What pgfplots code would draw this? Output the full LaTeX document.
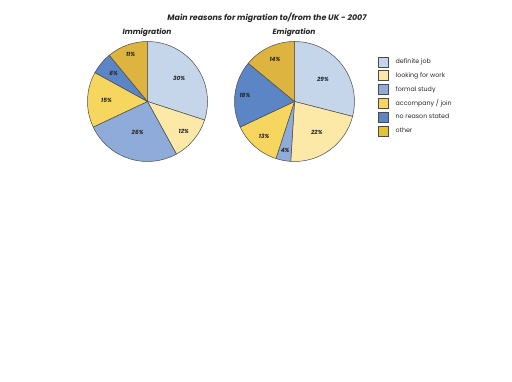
\documentclass[border=0pt]{standalone}
\usepackage{pgfplots}
\pgfplotsset{compat=1.18}
\usepackage{pgfplotstable}
\usepackage{fontspec}
\setmainfont{Poppins}
\definecolor{c0}{HTML}{C6D6EA}
\definecolor{c1}{HTML}{FCE9A8}
\definecolor{c2}{HTML}{8FABD9}
\definecolor{c3}{HTML}{F6D65E}
\definecolor{c4}{HTML}{5B85C4}
\definecolor{c5}{HTML}{DDB43F}
\definecolor{edge}{HTML}{4A4A4A}

% reason index, immigration %, emigration %, label distances (px)
\pgfplotstableread{
reason imm emi immr emir
1 30 29 39 36
2 12 22 47 38
3 26 4 32 50
4 15 13 41 46
5 6 18 44 50
6 11 14 50 46
}\piedata

\newcommand\drawpie[4]{%
  \gdef\curang{90}%
  \foreach \i in {0,...,5}{%
    \pgfplotstablegetelem{\i}{#1}\of\piedata
    \let\val\pgfplotsretval
    \pgfplotstablegetelem{\i}{#2}\of\piedata
    \let\lr\pgfplotsretval
    \pgfmathsetmacro\endang{\curang-3.6*\val}%
    \pgfmathsetmacro\midang{(\curang+\endang)/2}%
    \filldraw[fill=c\i, draw=edge, line width=0.5pt, line join=round]
      (axis cs:#3,#4) -- ++(\curang:60pt)
      arc[start angle=\curang, end angle=\endang, radius=60pt] -- cycle;
    \path (axis cs:#3,#4) ++(\midang:\lr pt)
      node[font=\bfseries\itshape\fontsize{5.8}{6.5}\selectfont, text=black!85] {\val\%};
    \xdef\curang{\endang}%
  }%
}

\begin{document}
\begin{tikzpicture}
\useasboundingbox (0,0) rectangle (512pt,381pt);
\begin{axis}[
  at={(0,0)}, anchor=south west,
  scale only axis, width=512pt, height=381pt,
  xmin=0, xmax=512, ymin=0, ymax=381,
  hide axis, clip=false,
  legend style={at={(axis cs:377.5,324.5)}, anchor=north west, draw=none, fill=none,
    font=\fontsize{6.3}{7}\selectfont, text=black!85, inner sep=0pt, row sep=3.3pt, column sep=7.5pt,
    nodes={inner sep=0pt, minimum height=10pt}},
  legend cell align=left,
  legend image code/.code={\draw[#1] (0pt,-5pt) rectangle (10pt,5pt);},
]
\addlegendimage{fill=c0, draw=edge, line width=0.5pt}
\addlegendimage{fill=c1, draw=edge, line width=0.5pt}
\addlegendimage{fill=c2, draw=edge, line width=0.5pt}
\addlegendimage{fill=c3, draw=edge, line width=0.5pt}
\addlegendimage{fill=c4, draw=edge, line width=0.5pt}
\addlegendimage{fill=c5!80!yellow, draw=edge, line width=0.5pt}
\legend{definite job, looking for work, formal study, accompany / join, no reason stated, other}
\pgfplotsextra{%
  \drawpie{imm}{immr}{147.5}{279.5}%
  \drawpie{emi}{emir}{294.5}{279.5}%
  \node[font=\bfseries\itshape\fontsize{7.9}{9}\selectfont, text=black!85] at (axis cs:267,363) {Main reasons for migration to/from the UK - 2007};
  \node[font=\bfseries\itshape\fontsize{7.5}{9}\selectfont, text=black!85] at (axis cs:147,348) {Immigration};
  \node[font=\bfseries\itshape\fontsize{7.5}{9}\selectfont, text=black!85] at (axis cs:294,348) {Emigration};
}
\end{axis}
\end{tikzpicture}
\end{document}
